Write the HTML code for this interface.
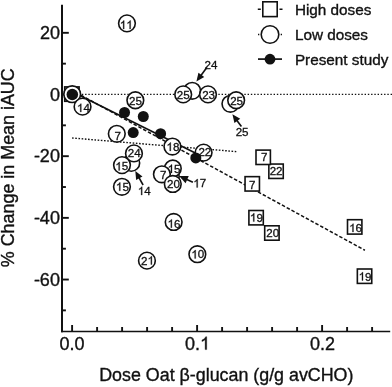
<!DOCTYPE html>
<html><head><meta charset="utf-8"><style>
html,body{margin:0;padding:0;background:#fff;}
svg{display:block;will-change:transform;}
text{font-family:"Liberation Sans", sans-serif;fill:#111;}
path{fill:#111;}
</style></head><body>
<svg width="392" height="387" viewBox="0 0 392 387">
<line x1="62.0" y1="4.8" x2="62.0" y2="332.25" stroke="#111" stroke-width="2"/>
<line x1="61.0" y1="331.5" x2="390.2" y2="331.5" stroke="#111" stroke-width="1.5"/>
<line x1="62.0" y1="32.82" x2="68.8" y2="32.82" stroke="#111" stroke-width="1.9"/>
<line x1="62.0" y1="63.66" x2="65.9" y2="63.66" stroke="#111" stroke-width="1.9"/>
<line x1="62.0" y1="94.50" x2="68.8" y2="94.50" stroke="#111" stroke-width="1.9"/>
<line x1="62.0" y1="125.34" x2="65.9" y2="125.34" stroke="#111" stroke-width="1.9"/>
<line x1="62.0" y1="156.18" x2="68.8" y2="156.18" stroke="#111" stroke-width="1.9"/>
<line x1="62.0" y1="187.02" x2="65.9" y2="187.02" stroke="#111" stroke-width="1.9"/>
<line x1="62.0" y1="217.86" x2="68.8" y2="217.86" stroke="#111" stroke-width="1.9"/>
<line x1="62.0" y1="248.70" x2="65.9" y2="248.70" stroke="#111" stroke-width="1.9"/>
<line x1="62.0" y1="279.54" x2="68.8" y2="279.54" stroke="#111" stroke-width="1.9"/>
<line x1="62.0" y1="310.38" x2="65.9" y2="310.38" stroke="#111" stroke-width="1.9"/>
<line x1="72.10" y1="331.5" x2="72.10" y2="325.00" stroke="#111" stroke-width="1.9"/>
<line x1="97.10" y1="331.5" x2="97.10" y2="327.00" stroke="#111" stroke-width="1.9"/>
<line x1="122.10" y1="331.5" x2="122.10" y2="327.00" stroke="#111" stroke-width="1.9"/>
<line x1="147.10" y1="331.5" x2="147.10" y2="327.00" stroke="#111" stroke-width="1.9"/>
<line x1="172.10" y1="331.5" x2="172.10" y2="327.00" stroke="#111" stroke-width="1.9"/>
<line x1="197.10" y1="331.5" x2="197.10" y2="325.00" stroke="#111" stroke-width="1.9"/>
<line x1="222.10" y1="331.5" x2="222.10" y2="327.00" stroke="#111" stroke-width="1.9"/>
<line x1="247.10" y1="331.5" x2="247.10" y2="327.00" stroke="#111" stroke-width="1.9"/>
<line x1="272.10" y1="331.5" x2="272.10" y2="327.00" stroke="#111" stroke-width="1.9"/>
<line x1="297.10" y1="331.5" x2="297.10" y2="327.00" stroke="#111" stroke-width="1.9"/>
<line x1="322.10" y1="331.5" x2="322.10" y2="325.00" stroke="#111" stroke-width="1.9"/>
<line x1="347.10" y1="331.5" x2="347.10" y2="327.00" stroke="#111" stroke-width="1.9"/>
<line x1="372.10" y1="331.5" x2="372.10" y2="327.00" stroke="#111" stroke-width="1.9"/>
<text x="39.88" y="38.82" font-size="18" stroke="#111" stroke-width="0.35">20</text>
<text x="49.89" y="100.50" font-size="18" stroke="#111" stroke-width="0.35">0</text>
<text x="33.89" y="162.18" font-size="18" stroke="#111" stroke-width="0.35">-20</text>
<text x="33.89" y="223.86" font-size="18" stroke="#111" stroke-width="0.35">-40</text>
<text x="33.89" y="285.54" font-size="18" stroke="#111" stroke-width="0.35">-60</text>
<text x="59.54" y="349.60" font-size="18" stroke="#111" stroke-width="0.35">0.0</text>
<text x="184.99" y="349.60" font-size="18" stroke="#111" stroke-width="0.35">0.</text><path transform="translate(200.00,349.60) scale(0.01800,-0.01800)" d="M285 0L373 0L373 716L316 716Q285 642 214 590Q165 556 109 533L109 448Q178 474 228 508Q262 532 285 556Z" stroke="#111" stroke-width="19.4"/>
<text x="309.99" y="349.60" font-size="18" stroke="#111" stroke-width="0.35">0.2</text>
<text x="0" y="0" font-size="17.9" stroke="#111" stroke-width="0.35" text-anchor="middle" transform="translate(14.3,167.75) rotate(-90)">% Change in Mean iAUC</text>
<text x="226.35" y="381.3" font-size="17.85" stroke="#111" stroke-width="0.35" text-anchor="middle">Dose Oat &#946;-glucan (g/g avCHO)</text>
<line x1="72.1" y1="94.3" x2="392" y2="94.3" stroke="#111" stroke-width="1.3" stroke-dasharray="1.4 1.85"/>
<line x1="72.1" y1="138.0" x2="236.3" y2="151.6" stroke="#111" stroke-width="1.4" stroke-dasharray="1.6 1.6"/>
<line x1="72.3" y1="90.54" x2="364.9" y2="250.25" stroke="#111" stroke-width="1.5" stroke-dasharray="3.5 1.95" stroke-dashoffset="1.0"/>
<line x1="72.3" y1="91.7" x2="195.8" y2="153.3" stroke="#111" stroke-width="1.65"/>
<rect x="64.70" y="86.90" width="14.4" height="14.4" fill="#fff" stroke="#111" stroke-width="1.6"/>
<circle cx="72.2" cy="94.2" r="8.35" fill="#fff" stroke="#111" stroke-width="1.6"/>
<circle cx="126.95" cy="23.35" r="8.35" fill="#fff" stroke="#111" stroke-width="1.6"/>
<circle cx="82.55" cy="106.65" r="8.35" fill="#fff" stroke="#111" stroke-width="1.6"/>
<circle cx="135.35" cy="100.25" r="8.35" fill="#fff" stroke="#111" stroke-width="1.6"/>
<circle cx="116.8" cy="133.8" r="8.35" fill="#fff" stroke="#111" stroke-width="1.6"/>
<circle cx="192.2" cy="90.8" r="8.35" fill="#fff" stroke="#111" stroke-width="1.6"/>
<circle cx="208.0" cy="94.4" r="8.35" fill="#fff" stroke="#111" stroke-width="1.6"/>
<circle cx="183.2" cy="94.4" r="8.35" fill="#fff" stroke="#111" stroke-width="1.6"/>
<circle cx="230.4" cy="103.8" r="8.35" fill="#fff" stroke="#111" stroke-width="1.6"/>
<circle cx="236.15" cy="100.25" r="8.35" fill="#fff" stroke="#111" stroke-width="1.6"/>
<circle cx="172.4" cy="146.55" r="8.35" fill="#fff" stroke="#111" stroke-width="1.6"/>
<circle cx="203.6" cy="152.6" r="8.35" fill="#fff" stroke="#111" stroke-width="1.6"/>
<circle cx="131.3" cy="162.9" r="8.35" fill="#fff" stroke="#111" stroke-width="1.6"/>
<circle cx="133.95" cy="153.4" r="8.35" fill="#fff" stroke="#111" stroke-width="1.6"/>
<circle cx="122.0" cy="165.1" r="8.35" fill="#fff" stroke="#111" stroke-width="1.6"/>
<circle cx="121.95" cy="186.8" r="8.35" fill="#fff" stroke="#111" stroke-width="1.6"/>
<circle cx="170.8" cy="176.5" r="8.35" fill="#fff" stroke="#111" stroke-width="1.6"/>
<circle cx="172.8" cy="168.5" r="8.35" fill="#fff" stroke="#111" stroke-width="1.6"/>
<circle cx="161.9" cy="174.3" r="8.35" fill="#fff" stroke="#111" stroke-width="1.6"/>
<circle cx="172.8" cy="183.95" r="8.35" fill="#fff" stroke="#111" stroke-width="1.6"/>
<circle cx="173.65" cy="221.95" r="8.35" fill="#fff" stroke="#111" stroke-width="1.6"/>
<circle cx="146.95" cy="260.65" r="8.35" fill="#fff" stroke="#111" stroke-width="1.6"/>
<circle cx="197.35" cy="254.2" r="8.35" fill="#fff" stroke="#111" stroke-width="1.6"/>
<rect x="268.85" y="164.05" width="14.4" height="14.4" fill="#fff" stroke="#111" stroke-width="1.6"/>
<rect x="256.00" y="150.10" width="14.4" height="14.4" fill="#fff" stroke="#111" stroke-width="1.6"/>
<rect x="245.05" y="176.65" width="14.4" height="14.4" fill="#fff" stroke="#111" stroke-width="1.6"/>
<rect x="248.90" y="210.50" width="14.4" height="14.4" fill="#fff" stroke="#111" stroke-width="1.6"/>
<rect x="264.70" y="225.80" width="14.4" height="14.4" fill="#fff" stroke="#111" stroke-width="1.6"/>
<rect x="347.50" y="219.70" width="14.4" height="14.4" fill="#fff" stroke="#111" stroke-width="1.6"/>
<rect x="357.35" y="269.00" width="14.4" height="14.4" fill="#fff" stroke="#111" stroke-width="1.6"/>
<path transform="translate(119.85,28.90) scale(0.01160,-0.01160)" d="M285 0L373 0L373 716L316 716Q285 642 214 590Q165 556 109 533L109 448Q178 474 228 508Q262 532 285 556Z" stroke="#111" stroke-width="25.9"/><path transform="translate(126.30,28.90) scale(0.01160,-0.01160)" d="M285 0L373 0L373 716L316 716Q285 642 214 590Q165 556 109 533L109 448Q178 474 228 508Q262 532 285 556Z" stroke="#111" stroke-width="25.9"/>
<path transform="translate(76.95,112.00) scale(0.01160,-0.01160)" d="M285 0L373 0L373 716L316 716Q285 642 214 590Q165 556 109 533L109 448Q178 474 228 508Q262 532 285 556Z" stroke="#111" stroke-width="25.9"/><text x="83.40" y="112.00" font-size="11.6" stroke="#111" stroke-width="0.3">4</text>
<text x="128.95" y="104.70" font-size="11.6" stroke="#111" stroke-width="0.3">25</text>
<text x="114.38" y="139.70" font-size="11.6" stroke="#111" stroke-width="0.3">7</text>
<text x="202.15" y="98.50" font-size="11.6" stroke="#111" stroke-width="0.3">23</text>
<text x="176.85" y="98.50" font-size="11.6" stroke="#111" stroke-width="0.3">25</text>
<text x="230.15" y="104.70" font-size="11.6" stroke="#111" stroke-width="0.3">25</text>
<path transform="translate(166.45,150.90) scale(0.01160,-0.01160)" d="M285 0L373 0L373 716L316 716Q285 642 214 590Q165 556 109 533L109 448Q178 474 228 508Q262 532 285 556Z" stroke="#111" stroke-width="25.9"/><text x="172.90" y="150.90" font-size="11.6" stroke="#111" stroke-width="0.3">8</text>
<text x="198.40" y="155.60" font-size="11.6" stroke="#111" stroke-width="0.3">22</text>
<text x="127.75" y="157.40" font-size="11.6" stroke="#111" stroke-width="0.3">24</text>
<path transform="translate(115.35,170.40) scale(0.01160,-0.01160)" d="M285 0L373 0L373 716L316 716Q285 642 214 590Q165 556 109 533L109 448Q178 474 228 508Q262 532 285 556Z" stroke="#111" stroke-width="25.9"/><text x="121.80" y="170.40" font-size="11.6" stroke="#111" stroke-width="0.3">5</text>
<path transform="translate(115.95,190.80) scale(0.01160,-0.01160)" d="M285 0L373 0L373 716L316 716Q285 642 214 590Q165 556 109 533L109 448Q178 474 228 508Q262 532 285 556Z" stroke="#111" stroke-width="25.9"/><text x="122.40" y="190.80" font-size="11.6" stroke="#111" stroke-width="0.3">5</text>
<path transform="translate(167.65,172.90) scale(0.01160,-0.01160)" d="M285 0L373 0L373 716L316 716Q285 642 214 590Q165 556 109 533L109 448Q178 474 228 508Q262 532 285 556Z" stroke="#111" stroke-width="25.9"/><text x="174.10" y="172.90" font-size="11.6" stroke="#111" stroke-width="0.3">5</text>
<text x="159.88" y="178.80" font-size="11.6" stroke="#111" stroke-width="0.3">7</text>
<text x="167.10" y="188.40" font-size="11.6" stroke="#111" stroke-width="0.3">20</text>
<path transform="translate(167.55,227.70) scale(0.01160,-0.01160)" d="M285 0L373 0L373 716L316 716Q285 642 214 590Q165 556 109 533L109 448Q178 474 228 508Q262 532 285 556Z" stroke="#111" stroke-width="25.9"/><text x="174.00" y="227.70" font-size="11.6" stroke="#111" stroke-width="0.3">6</text>
<text x="141.10" y="264.50" font-size="11.6" stroke="#111" stroke-width="0.3">2</text><path transform="translate(147.55,264.50) scale(0.01160,-0.01160)" d="M285 0L373 0L373 716L316 716Q285 642 214 590Q165 556 109 533L109 448Q178 474 228 508Q262 532 285 556Z" stroke="#111" stroke-width="25.9"/>
<path transform="translate(191.35,258.40) scale(0.01160,-0.01160)" d="M285 0L373 0L373 716L316 716Q285 642 214 590Q165 556 109 533L109 448Q178 474 228 508Q262 532 285 556Z" stroke="#111" stroke-width="25.9"/><text x="197.80" y="258.40" font-size="11.6" stroke="#111" stroke-width="0.3">0</text>
<text x="269.65" y="175.40" font-size="11.6" stroke="#111" stroke-width="0.3">22</text>
<text x="260.88" y="161.35" font-size="11.6" stroke="#111" stroke-width="0.3">7</text>
<text x="248.93" y="188.80" font-size="11.6" stroke="#111" stroke-width="0.3">7</text>
<path transform="translate(249.95,221.60) scale(0.01160,-0.01160)" d="M285 0L373 0L373 716L316 716Q285 642 214 590Q165 556 109 533L109 448Q178 474 228 508Q262 532 285 556Z" stroke="#111" stroke-width="25.9"/><text x="256.40" y="221.60" font-size="11.6" stroke="#111" stroke-width="0.3">9</text>
<text x="266.35" y="237.40" font-size="11.6" stroke="#111" stroke-width="0.3">20</text>
<path transform="translate(349.15,232.00) scale(0.01160,-0.01160)" d="M285 0L373 0L373 716L316 716Q285 642 214 590Q165 556 109 533L109 448Q178 474 228 508Q262 532 285 556Z" stroke="#111" stroke-width="25.9"/><text x="355.60" y="232.00" font-size="11.6" stroke="#111" stroke-width="0.3">6</text>
<path transform="translate(358.65,280.50) scale(0.01160,-0.01160)" d="M285 0L373 0L373 716L316 716Q285 642 214 590Q165 556 109 533L109 448Q178 474 228 508Q262 532 285 556Z" stroke="#111" stroke-width="25.9"/><text x="365.10" y="280.50" font-size="11.6" stroke="#111" stroke-width="0.3">9</text>
<circle cx="72.3" cy="94.5" r="5.8" fill="#111"/>
<circle cx="124.55" cy="112.5" r="5.5" fill="#111"/>
<circle cx="143.3" cy="116.5" r="5.5" fill="#111"/>
<circle cx="133.2" cy="132.6" r="5.5" fill="#111"/>
<circle cx="160.6" cy="133.7" r="5.5" fill="#111"/>
<circle cx="195.8" cy="157.9" r="5.5" fill="#111"/>
<text x="204.45" y="68.70" font-size="11.6" stroke="#111" stroke-width="0.3">24</text>
<line x1="207.0" y1="67.3" x2="200.75" y2="75.74" stroke="#111" stroke-width="1.6"/>
<polygon points="196.40,81.60 198.45,72.79 204.23,77.08" fill="#111"/>
<text x="235.65" y="136.20" font-size="11.6" stroke="#111" stroke-width="0.3">25</text>
<line x1="241.4" y1="126.5" x2="236.73" y2="120.17" stroke="#111" stroke-width="1.6"/>
<polygon points="232.40,114.30 240.22,118.84 234.43,123.12" fill="#111"/>
<path transform="translate(137.85,195.00) scale(0.01160,-0.01160)" d="M285 0L373 0L373 716L316 716Q285 642 214 590Q165 556 109 533L109 448Q178 474 228 508Q262 532 285 556Z" stroke="#111" stroke-width="25.9"/><text x="144.30" y="195.00" font-size="11.6" stroke="#111" stroke-width="0.3">4</text>
<line x1="143.1" y1="185.0" x2="138.83" y2="177.29" stroke="#111" stroke-width="1.6"/>
<polygon points="135.30,170.90 142.47,176.42 136.17,179.91" fill="#111"/>
<path transform="translate(193.35,187.40) scale(0.01160,-0.01160)" d="M285 0L373 0L373 716L316 716Q285 642 214 590Q165 556 109 533L109 448Q178 474 228 508Q262 532 285 556Z" stroke="#111" stroke-width="25.9"/><text x="199.80" y="187.40" font-size="11.6" stroke="#111" stroke-width="0.3">7</text>
<line x1="192.9" y1="182.2" x2="186.23" y2="179.25" stroke="#111" stroke-width="1.6"/>
<polygon points="179.10,176.10 188.73,176.09 185.57,183.22" fill="#111"/>
<line x1="257.8" y1="9.2" x2="282.5" y2="9.2" stroke="#111" stroke-width="1.5" stroke-dasharray="3 18.7"/>
<rect x="262.8" y="1.8" width="14.4" height="14.8" fill="#fff" stroke="#111" stroke-width="1.6"/>
<line x1="258" y1="34.5" x2="282" y2="34.5" stroke="#111" stroke-width="1.4" stroke-dasharray="1.3 21.4"/>
<circle cx="270" cy="34.5" r="8.8" fill="#fff" stroke="#111" stroke-width="1.6"/>
<line x1="258" y1="59.1" x2="282" y2="59.1" stroke="#111" stroke-width="1.7"/>
<circle cx="270" cy="59.2" r="5.4" fill="#111"/>
<text x="294.9" y="14.7" font-size="15.3" stroke="#111" stroke-width="0.35">High doses</text>
<text x="294.9" y="39.9" font-size="15.3" stroke="#111" stroke-width="0.35">Low doses</text>
<text x="294.9" y="64.5" font-size="15.3" stroke="#111" stroke-width="0.35">Present study</text>
</svg>
</body></html>
